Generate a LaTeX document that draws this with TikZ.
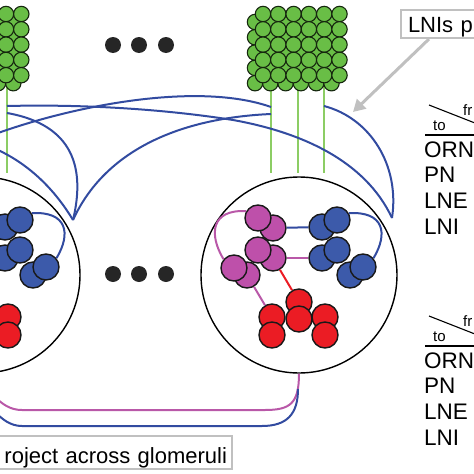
\documentclass[tikz,border=0pt]{standalone}
\usepackage{fontspec}
\setmainfont{Liberation Sans}
\usetikzlibrary{arrows.meta}
\definecolor{lneblue}{RGB}{50,75,160}
\definecolor{cellblue}{RGB}{60,90,170}
\definecolor{lnimag}{RGB}{185,88,168}
\definecolor{cellmag}{RGB}{190,80,170}
\definecolor{cellred}{RGB}{235,28,36}
\definecolor{orngreen}{RGB}{105,190,70}
\definecolor{axongreen}{RGB}{140,205,100}
\definecolor{labelgray}{RGB}{192,192,192}
\tikzset{
  cell/.style={circle,draw=black!90,line width=1.4pt,minimum size=26pt,inner sep=0pt},
  orncell/.style={circle,draw=black!80!orngreen,fill=orngreen,line width=1.1pt,minimum size=15.4pt,inner sep=0pt},
  glom/.style={circle,draw=black,line width=1.4pt,minimum size=196pt,inner sep=0pt},
  dotnode/.style={circle,fill=black!85,minimum size=16pt,inner sep=0pt},
  lne/.style={draw=lneblue,line width=2pt},
  lni/.style={draw=lnimag,line width=2pt},
  axon/.style={draw=axongreen,line width=2pt},
  bigtext/.style={font=\fontsize{22.5pt}{26pt}\selectfont,inner sep=0pt},
  smalltext/.style={font=\fontsize{15pt}{17pt}\selectfont,inner sep=0pt},
  labelbox/.style={draw=labelgray,line width=2pt,fill=white,font=\fontsize{22pt}{26pt}\selectfont}
}

\begin{document}
\begin{tikzpicture}[x=1pt,y=-1pt]
\useasboundingbox (0,0) rectangle (474,474);
\clip (0,0) rectangle (474,474);

\foreach \x/\n in {7/L,271/R1,298/R2,324/R3}{
  \coordinate (top\n) at (\x,86);
  \coordinate (end\n) at (\x,173);
  \draw[axon] (top\n) -- (end\n);
}

\foreach \i in {0,...,5}
  \foreach \j in {0,...,4}
    \node (ornRb\i\j) [orncell] at ({255+15.3*\i},{22+15.3*\j}) {};
\foreach \i in {0,...,5}
  \foreach \j in {0,...,4}
    \node (ornRf\i\j) [orncell] at ({263+15.3*\i},{14+15.3*\j}) {};
\foreach \i in {0,1,2}
  \foreach \j in {0,...,4}
    \node (ornLb\i\j) [orncell] at ({-17.3+15.3*\i},{22+15.3*\j}) {};
\foreach \i in {0,1,2}
  \foreach \j in {0,...,4}
    \node (ornLf\i\j) [orncell] at ({-9.3+15.3*\i},{14+15.3*\j}) {};

\foreach \x in {113,139,166}{
  \node (dotsTop\x) [dotnode] at (\x,45) {};
  \node (dotsMid\x) [dotnode] at (\x,274) {};
}

\foreach \g/\s in {L/-317,R/0}{
\begin{scope}[xshift=\s pt]
  \node (\g-glom) [glom] at (299,275) {};
  \node (\g-b1b) [cell,fill=cellblue] at (322,227) {};
  \node (\g-b2b) [cell,fill=cellblue] at (322,258) {};
  \node (\g-b3b) [cell,fill=cellblue] at (350,275) {};
  \node (\g-b1f) [cell,fill=cellblue] at (337,220) {};
  \node (\g-b2f) [cell,fill=cellblue] at (337,250) {};
  \node (\g-b3f) [cell,fill=cellblue] at (363,267) {};
  \node (\g-m1b) [cell,fill=cellmag] at (273,228) {};
  \node (\g-m2b) [cell,fill=cellmag] at (273,258) {};
  \node (\g-m3b) [cell,fill=cellmag] at (247,275) {};
  \node (\g-m1f) [cell,fill=cellmag] at (258,218) {};
  \node (\g-m2f) [cell,fill=cellmag] at (258,250) {};
  \node (\g-m3f) [cell,fill=cellmag] at (234,268) {};
  \node (\g-r1b) [cell,fill=cellred] at (299,302) {};
  \node (\g-r2b) [cell,fill=cellred] at (272,317) {};
  \node (\g-r3b) [cell,fill=cellred] at (325,317) {};
  \node (\g-r1f) [cell,fill=cellred] at (299,319) {};
  \node (\g-r2f) [cell,fill=cellred] at (272,335) {};
  \node (\g-r3f) [cell,fill=cellred] at (325,335) {};
  \draw[lne] (\g-m1b) -- (\g-b1b);
  \draw[lni] (\g-m2b) -- (\g-b2b);
  \draw[draw=cellred,line width=2pt] (\g-m2b) -- (\g-r1b);
  \draw[lni] (\g-m3b) -- (\g-r2b);
  \draw[lne] (\g-b1f.30) .. controls +(35,-2) and +(15,-25) .. (\g-b3f.40);
  \draw[lni] (\g-m1f.150) .. controls +(-35,-2) and +(-15,-25) .. (\g-m3f.140);
\end{scope}
}

\coordinate (cuspL) at (73,220);
\coordinate (cuspR) at (392,218);
\coordinate (edgeA) at (-2,133);
\coordinate (edgeB) at (-2,150);
\coordinate (jL1) at (7,106);
\coordinate (jL2) at (7,113);
\coordinate (jR1a) at (271,107);
\coordinate (jR1b) at (271,114);
\coordinate (jR3) at (324,106);
\draw[lne] (edgeA) .. controls (80,104) and (200,82) .. (jR1a);
\draw[lne] (jL1) .. controls (90,104) and (170,110) .. (233,120)
  .. controls (300,132) and (365,160) .. (cuspR);
\draw[lne] (cuspL) .. controls (105,150) and (180,118) .. (jR1b);
\draw[lne] (cuspL) .. controls (85,170) and (75,125) .. (jL2);
\draw[lne] (edgeB) .. controls (30,165) and (55,190) .. (cuspL);
\draw[lne] (jR3) .. controls (370,118) and (400,165) .. (cuspR);

\coordinate (lneLow) at (298,389);
\draw[lni] (R-glom.south) .. controls +(0,30) and +(25,0) .. (265,410)
  -- (22,410) .. controls +(-12,0) and +(8,8) .. (-6,396);
\draw[lne] (lneLow) .. controls +(0,25) and +(25,0) .. (262,426)
  -- (22,426) .. controls +(-12,0) and +(8,8) .. (-6,411);

\node (lniBox) [labelbox,anchor=north west,text width=70pt,align=left,
  inner xsep=7pt,inner ysep=3pt,text height=19pt,text depth=3pt] at (400,9) {LNIs p};
\node (acrossBox) [labelbox,anchor=north east,text width=250pt,align=right,
  inner xsep=5pt,inner ysep=3pt,text height=24pt,text depth=3pt] at (233,435) {roject across glomeruli};
\coordinate (lneArrow) at (353,112);
\draw[draw=labelgray,line width=3pt,-{Triangle[length=12pt,width=13pt]}]
  ([xshift=29pt]lniBox.south west) -- (lneArrow);

\foreach \t/\yy in {A/0,B/211}{
  \draw[line width=1.1pt] (429,{105+\yy}) -- (480,{125+\yy});
  \node (from\t) [smalltext,anchor=base west] at (463,{115+\yy}) {fr};
  \node (to\t) [smalltext,anchor=base west] at (433,{130+\yy}) {to};
  \draw[line width=1.1pt] (425,{135+\yy}) -- (480,{135+\yy});
  \node (orn\t) [bigtext,anchor=base west] at (424,{157+\yy}) {ORN};
  \node (pn\t) [bigtext,anchor=base west] at (424,{182+\yy}) {PN};
  \node (lne\t) [bigtext,anchor=base west] at (424,{208+\yy}) {LNE};
  \node (lni\t) [bigtext,anchor=base west] at (424,{234+\yy}) {LNI};
}
\end{tikzpicture}
\end{document}
